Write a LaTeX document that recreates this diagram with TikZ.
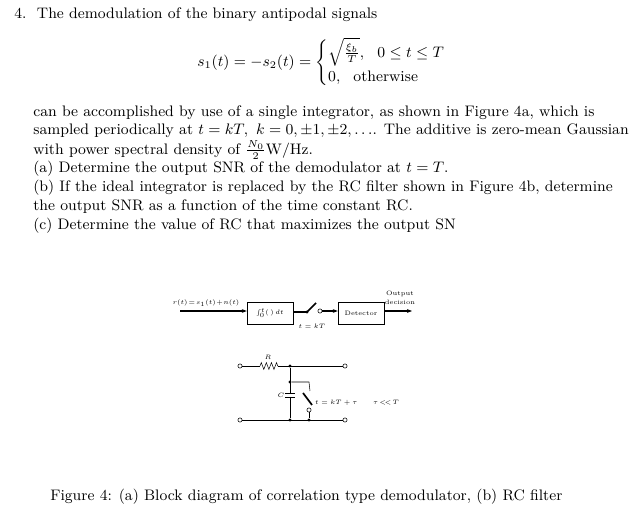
\documentclass[tikz,border=0pt]{standalone}
\usepackage{amsmath,amssymb}
\usetikzlibrary{arrows.meta,decorations.pathmorphing}
\newcommand{\mysm}[1]{\scalebox{0.75}{\tiny #1}}
\begin{document}
\begin{tikzpicture}[x=0.5908pt,y=-0.5908pt,
  txt/.style={anchor=west,inner sep=0pt,font=\fontsize{9}{11}\selectfont},
  sm/.style={inner sep=0.5pt},
  blk/.style={draw,thin,inner sep=0pt},
  wire/.style={line width=0.3pt},
  sig/.style={line width=0.6pt,-{Stealth[length=3pt]}},
  term/.style={circle,draw,line width=0.3pt,inner sep=0pt,minimum size=2.5pt},
  dot/.style={circle,fill,inner sep=0pt,minimum size=2pt}]
\useasboundingbox (0,0) rectangle (636,518);
\node[txt] (t1) at (14,15) {4.\ \ The demodulation of the binary antipodal signals};
\node[txt] (eq) at (197,63) {$s_1(t)=-s_2(t)=\begin{cases}\sqrt{\frac{\xi_b}{T}},\ \ 0\le t\le T\\ 0,\ \ \text{otherwise}\end{cases}$};
\node[txt] (p1) at (33,113) {can be accomplished by use of a single integrator, as shown in Figure 4a, which is};
\node[txt] (p2) at (33,131) {sampled periodically at $t=kT,\ k=0,\pm1,\pm2,\ldots$. The additive is zero-mean Gaussian};
\node[txt] (p3) at (33,150) {with power spectral density of $\frac{N_0}{2}$W/Hz.};
\node[txt] (p4) at (33,169) {(a) Determine the output SNR of the demodulator at $t=T$.};
\node[txt] (p5) at (33,188) {(b) If the ideal integrator is replaced by the RC filter shown in Figure 4b, determine};
\node[txt] (p6) at (33,207) {the output SNR as a function of the time constant RC.};
\node[txt] (p7) at (33,226) {(c) Determine the value of RC that maximizes the output SN};
% block diagram
\coordinate (in) at (180,311);
\node[blk,minimum width=27pt,minimum height=13pt] (int) at (270,313) {\mysm{$\int_0^t(\,)\,dt$}};
\node[blk,minimum width=27pt,minimum height=13pt] (det) at (361,313) {\mysm{Detector}};
\coordinate (out) at (412,311);
\node[sm,anchor=south] at (206,308) {\mysm{$r(t)\!=\!s_1(t)\!+\!n(t)$}};
\coordinate (sw1) at (307,312);
\coordinate (sw2) at (316,303);
\node[term] (so) at (320,311) {};
\draw[sig] (in) -- (in-|int.west);
\draw[line width=0.6pt] (int.east|-sw1) -- (sw1);
\draw[line width=1pt] (sw1) -- (sw2);
\node[dot] at (sw1) {};
\draw[sig] (so) -- (det.west|-so);
\draw[sig] (det.east|-out) -- (out);
\node[sm] at (312,326) {\mysm{$t=kT$}};
\node[sm,align=center] at (400,298) {\mysm{\shortstack{Output\\decision}}};
% RC circuit
\node[term] (a1) at (240,366) {};
\node[term] (a2) at (345,366) {};
\node[term] (b1) at (240,420) {};
\node[term] (b2) at (345,420) {};
\coordinate (r1) at (260,366); \coordinate (r2) at (278,366);
\node[dot] (j1) at (290,366) {};
\node[dot] (j2) at (290,382) {};
\node[dot] (j3) at (290,420) {};
\node[dot] (j4) at (309,420) {};
\node[term] (s0) at (309,410) {};
\draw[wire] (a1) -- (r1);
\draw[wire,decorate,decoration={zigzag,segment length=3pt,amplitude=2pt}] (r1) -- (r2);
\draw[wire] (r2) -- (a2);
\node[sm] at (268,357) {\mysm{$R$}};
\draw[wire] (j1) -- (290,393) (290,397) -- (j3);
\draw[wire] (285,393) -- (295,393) (285,397) -- (295,397);
\node[sm] at (281,395) {\mysm{$C$}};
\draw[wire] (j2) -- (309,382) -- (310,391);
\draw[line width=1pt] (303,393) -- (312,405);
\draw[wire] (s0) -- (j4);
\draw[wire] (b1) -- (b2);
\node[sm,anchor=west] at (314,403) {\mysm{$t=kT+\tau$}};
\node[sm,anchor=west] at (372,403) {\mysm{$\tau\!<\!<\!T$}};
\node[txt] (cap) at (50,497) {Figure 4: (a) Block diagram of correlation type demodulator, (b) RC filter};
\end{tikzpicture}
\end{document}
